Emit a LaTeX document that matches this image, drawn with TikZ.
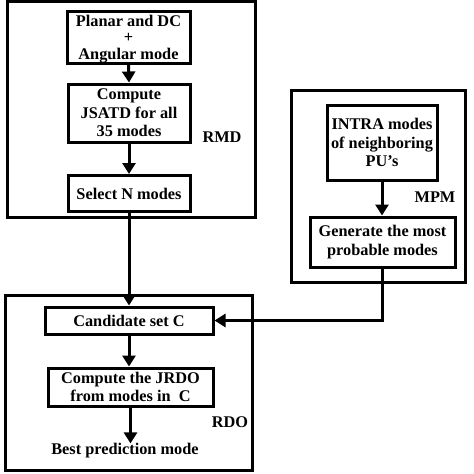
\documentclass[tikz,border=0pt]{standalone}
\usepackage{fontspec}
\setmainfont{Liberation Serif}
\usetikzlibrary{arrows.meta}
\begin{document}
\begin{tikzpicture}[x=1pt,y=-1pt,
  blk/.style={draw,line width=3pt,align=center,inner sep=0pt,font=\fontsize{16.3}{18.5}\selectfont\bfseries},
  grp/.style={draw,line width=3pt},
  lbl/.style={font=\fontsize{16.3}{18.5}\selectfont\bfseries,inner sep=0pt},
  arr/.style={line width=3pt,-{Triangle[width=13pt,length=11pt]}},
  ln/.style={line width=3pt}]
\useasboundingbox (0,0) rectangle (474,474);
\fill[white] (0,0) rectangle (474,474);
% groups
\draw[grp] (7,1.5) rectangle (255,217);
\draw[grp] (291,90) rectangle (465,282);
\draw[grp] (5,295) rectangle (252,470);
% RMD
\node[blk,minimum width=123pt,minimum height=52pt] (b1) at (128.5,37) {};
\node[lbl,align=center,font=\fontsize{16.3}{16.8}\selectfont\bfseries] (b1t) at ([yshift=-2pt]b1.center) {Planar and DC\\+\\Angular mode};
\node[blk,minimum width=122pt,minimum height=58pt] (b2) at (129,113) {Compute\\JSATD for all\\35 modes};
\node[blk,minimum width=122pt,minimum height=36pt] (b3) at (129,193.5) {Select N modes};
\node[lbl] (rmd) at (222,137) {RMD};
% MPM
\node[blk,minimum width=110pt,minimum height=75pt] (m1) at (382,142.5) {INTRA modes\\of neighboring\\PU’s};
\node[blk,minimum width=145pt,minimum height=50pt] (m2) at (382.5,242) {Generate the most\\probable modes};
\node[lbl] (mpm) at (435,197) {MPM};
% RDO
\node[blk,minimum width=168pt,minimum height=27pt] (c1) at (129,320.5) {Candidate set C};
\node[blk,minimum width=165pt,minimum height=38pt] (c2) at (130.5,387) {Compute the JRDO\\from modes in\ \ C};
\node[lbl,minimum height=12pt] (best) at (125,451) {Best prediction mode};
\node[lbl] (rdo) at (230,422) {RDO};
% arrows
\draw[arr] (b1.south) -- (b2.north);
\draw[arr] (b2.south) -- (b3.north);
\draw[arr] (b3.south) -- (b3.south |- c1.north);
\draw[arr] (m1.south) -- (m1.south |- m2.north);
\draw[arr] (m2.south) |- (c1.east);
\draw[arr] (c1.south) -- (c1.south |- c2.north);
\draw[arr] (c2.south) -- (c2.south |- best.north);
\end{tikzpicture}
\end{document}
